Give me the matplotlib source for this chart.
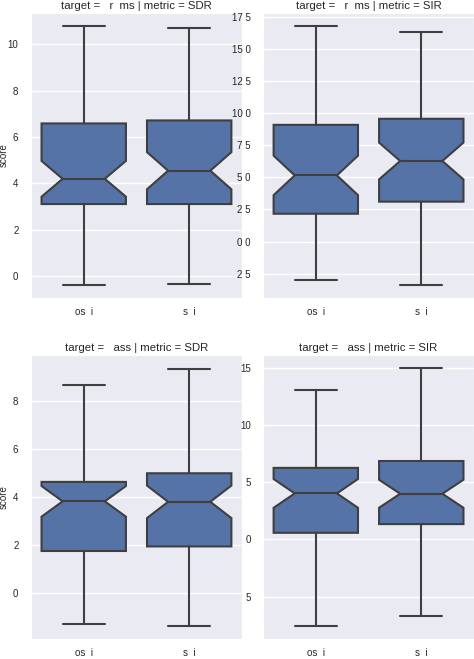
import numpy as np
import matplotlib
matplotlib.use("Agg")
import matplotlib.pyplot as plt
import seaborn as sns

sns.set_style("darkgrid")
plt.rcParams["font.family"] = ["Liberation Sans", "DejaVu Sans"]

# box statistics (two methods per panel), 50 tracks
methods = ["os  i", "s  i"]
n_tracks = 50

drums_sdr_q1 = [3.10, 3.10]
drums_sdr_med = [4.19, 4.54]
drums_sdr_q3 = [6.58, 6.71]
drums_sdr_lo = [-0.39, -0.34]
drums_sdr_hi = [10.79, 10.70]

drums_sir_q1 = [2.17, 3.11]
drums_sir_med = [5.15, 6.27]
drums_sir_q3 = [9.08, 9.55]
drums_sir_lo = [-2.97, -3.39]
drums_sir_hi = [16.75, 16.28]

bass_sdr_q1 = [1.74, 1.93]
bass_sdr_med = [3.81, 3.79]
bass_sdr_q3 = [4.62, 4.98]
bass_sdr_lo = [-1.31, -1.38]
bass_sdr_hi = [8.67, 9.34]

bass_sir_q1 = [0.58, 1.34]
bass_sir_med = [4.02, 3.99]
bass_sir_q3 = [6.25, 6.85]
bass_sir_lo = [-7.55, -6.68]
bass_sir_hi = [13.07, 14.95]

titles = ["target =   r  ms | metric = SDR", "target =   r  ms | metric = SIR",
          "target =   ass | metric = SDR", "target =   ass | metric = SIR"]

ticks_drums_sdr = [0, 2, 4, 6, 8, 10]
labels_drums_sdr = ["0", "2", "4", "6", "8", "10"]
ticks_drums_sir = [-2.5, 0, 2.5, 5, 7.5, 10, 12.5, 15, 17.5]
labels_drums_sir = ["2 5", "0 0", "2 5", "5 0", "7 5", "10 0", "12 5", "15 0", "17 5"]
ticks_bass_sdr = [0, 2, 4, 6, 8]
labels_bass_sdr = ["0", "2", "4", "6", "8"]
ticks_bass_sir = [-5, 0, 5, 10, 15]
labels_bass_sir = ["5", "0", "5", "10", "15"]

ylims = [(-0.95, 11.34), (-4.37, 17.76), (-1.93, 9.91), (-8.70, 16.11)]


def make_stats(q1, med, q3, lo, hi):
    stats = []
    for i in range(len(methods)):
        half = 1.57 * (q3[i] - q1[i]) / np.sqrt(n_tracks)
        stats.append(dict(q1=q1[i], med=med[i], q3=q3[i], whislo=lo[i], whishi=hi[i],
                          cilo=med[i] - half, cihi=med[i] + half, fliers=[],
                          label=methods[i]))
    return stats


panels = [
    make_stats(drums_sdr_q1, drums_sdr_med, drums_sdr_q3, drums_sdr_lo, drums_sdr_hi),
    make_stats(drums_sir_q1, drums_sir_med, drums_sir_q3, drums_sir_lo, drums_sir_hi),
    make_stats(bass_sdr_q1, bass_sdr_med, bass_sdr_q3, bass_sdr_lo, bass_sdr_hi),
    make_stats(bass_sir_q1, bass_sir_med, bass_sir_q3, bass_sir_lo, bass_sir_hi),
]
tick_sets = [(ticks_drums_sdr, labels_drums_sdr), (ticks_drums_sir, labels_drums_sir),
             (ticks_bass_sdr, labels_bass_sdr), (ticks_bass_sir, labels_bass_sir)]

fig = plt.figure(figsize=(4.74, 6.59), dpi=100)
rects = [[0.0654, 0.548, 0.445, 0.432], [0.555, 0.548, 0.445, 0.432],
         [0.0654, 0.0303, 0.445, 0.431], [0.555, 0.0303, 0.445, 0.431]]

box_col = "#5573a6"
line_col = "#3f3f3f"
lw = 1.5

for k in range(4):
    ax = fig.add_axes(rects[k])
    ax.bxp(panels[k], positions=[0, 1], widths=0.8, shownotches=True, patch_artist=True,
           showfliers=False,
           boxprops=dict(facecolor=box_col, edgecolor=line_col, linewidth=lw),
           whiskerprops=dict(color=line_col, linewidth=lw),
           capprops=dict(color=line_col, linewidth=lw),
           medianprops=dict(color=line_col, linewidth=lw))
    ax.set_xlim(-0.5, 1.5)
    ax.set_ylim(*ylims[k])
    ax.set_yticks(tick_sets[k][0])
    ax.set_yticklabels(tick_sets[k][1])
    ax.xaxis.grid(False)
    ax.yaxis.grid(True, color="white", linewidth=1)
    ax.tick_params(axis="x", labelsize=7, pad=3)
    ax.tick_params(axis="y", labelsize=7, pad=5.5)
    ax.set_title(titles[k], fontsize=8.2, pad=3)
    if k % 2 == 0:
        ax.set_ylabel("score", fontsize=7)
        ax.yaxis.set_label_coords(-0.104, 0.5)

fig.savefig("out.png", dpi=100)
